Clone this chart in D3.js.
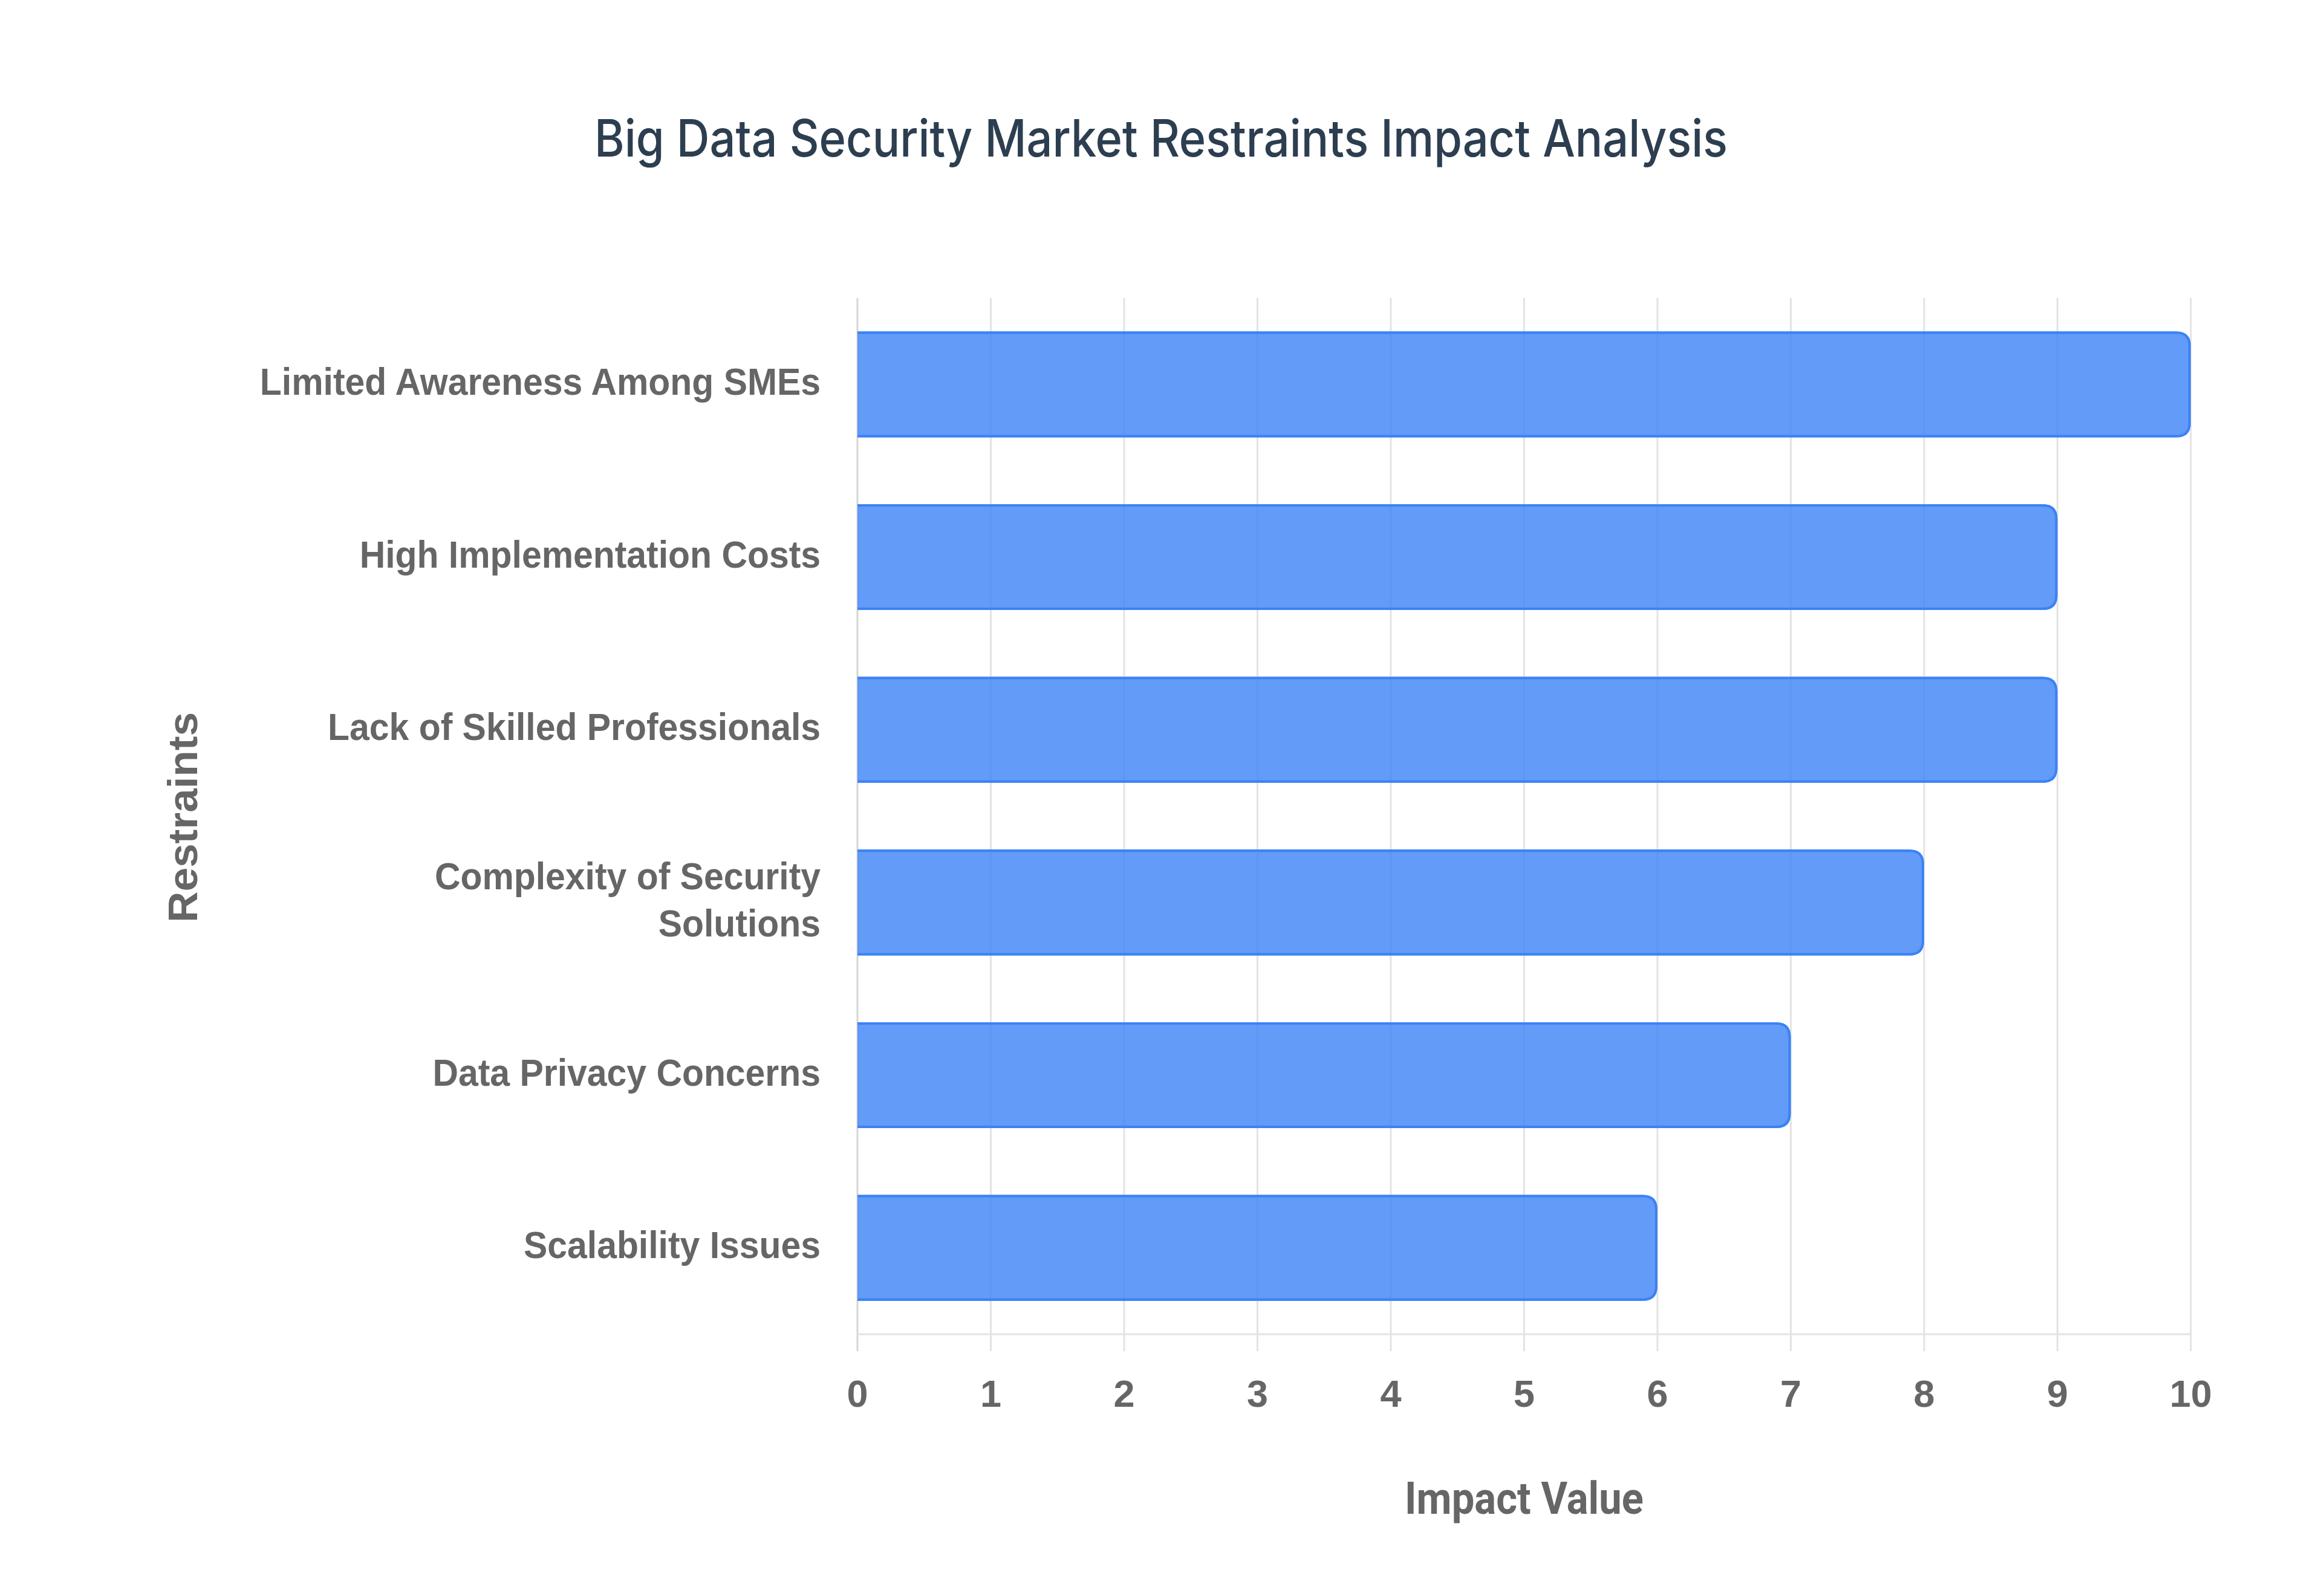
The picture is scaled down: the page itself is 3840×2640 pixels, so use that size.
<!DOCTYPE html>
<html>
<head>
<meta charset="utf-8">
<script src="https://cdn.jsdelivr.net/npm/d3@7"></script>
<style>
  html, body { margin: 0; padding: 0; background: #ffffff; }
  svg { display: block; }
</style>
</head>
<body>
<div id="chart"></div>
<script>
// ---- data ----
const chartTitle = "Big Data Security Market Restraints Impact Analysis";
const categories = [
  "Limited Awareness Among SMEs",
  "High Implementation Costs",
  "Lack of Skilled Professionals",
  "Complexity of Security Solutions",
  "Data Privacy Concerns",
  "Scalability Issues"
];
const categoryLabelLines = [
  ["Limited Awareness Among SMEs"],
  ["High Implementation Costs"],
  ["Lack of Skilled Professionals"],
  ["Complexity of Security", "Solutions"],
  ["Data Privacy Concerns"],
  ["Scalability Issues"]
];
const impactValues = [10, 9, 9, 8, 7, 6];
const xTicks = [0, 1, 2, 3, 4, 5, 6, 7, 8, 9, 10];
const xAxisTitle = "Impact Value";
const yAxisTitle = "Restraints";

// ---- layout ----
const W = 3840, H = 2640;
const plot = { left: 1418, right: 3623, top: 493, bottom: 2207 };

const svg = d3.select("#chart").append("svg")
  .attr("width", W).attr("height", H)
  .attr("viewBox", `0 0 ${W} ${H}`);

svg.append("rect").attr("width", W).attr("height", H).attr("fill", "#ffffff");

const x = d3.scaleLinear().domain([0, 10]).range([plot.left, plot.right]);
const y = d3.scaleBand().domain(categories).range([plot.top, plot.bottom])
  .paddingInner(0.387).paddingOuter(0.387 / 2);

const gridColor = "#e3e3e3";

// vertical gridlines with ticks extending below axis
svg.append("g").selectAll("line").data(xTicks).join("line")
  .attr("x1", d => x(d)).attr("x2", d => x(d))
  .attr("y1", plot.top).attr("y2", plot.bottom + 28)
  .attr("stroke", d => d === 0 ? "#d6d6d6" : gridColor)
  .attr("stroke-width", 3);

// bottom axis line
svg.append("line")
  .attr("x1", plot.left).attr("x2", plot.right)
  .attr("y1", plot.bottom).attr("y2", plot.bottom)
  .attr("stroke", gridColor).attr("stroke-width", 3);

// tick labels
svg.append("g").selectAll("text").data(xTicks).join("text")
  .attr("x", d => x(d)).attr("y", 2327)
  .attr("text-anchor", "middle")
  .attr("font-family", "'Liberation Sans', Arial, Helvetica, sans-serif")
  .attr("font-weight", "bold")
  .attr("font-size", 63)
  .attr("fill", "#666666")
  .text(d => d);

// bars
const r = 24, bw = 4;
const bars = svg.append("g");
categories.forEach((c, i) => {
  const x0 = x(0), x1 = x(impactValues[i]);
  const y0 = y(c), h = y.bandwidth();
  const rr = Math.min(r, h / 2, x1 - x0);
  const fillPath = `M${x0},${y0} H${x1 - rr} Q${x1},${y0} ${x1},${y0 + rr} V${y0 + h - rr} Q${x1},${y0 + h} ${x1 - rr},${y0 + h} H${x0} Z`;
  bars.append("path").attr("d", fillPath).attr("fill", "rgba(59,130,246,0.8)");
  const a = bw / 2;
  const xi = x1 - a, yt = y0 + a, yb = y0 + h - a, ri = rr - a;
  const strokePath = `M${x0},${yt} H${xi - ri} Q${xi},${yt} ${xi},${yt + ri} V${yb - ri} Q${xi},${yb} ${xi - ri},${yb} H${x0}`;
  bars.append("path").attr("d", strokePath).attr("fill", "none")
    .attr("stroke", "#3b82f6").attr("stroke-width", bw);
});

// category labels
const labG = svg.append("g");
categories.forEach((c, i) => {
  const lines = categoryLabelLines[i];
  const cy = y(c) + y.bandwidth() / 2;
  const lh = 78;
  lines.forEach((ln, j) => {
    const base = cy + 17 + (j - (lines.length - 1) / 2) * lh;
    labG.append("text")
      .attr("transform", `translate(1357,${base}) scale(0.935,1)`)
      .attr("text-anchor", "end")
      .attr("font-family", "'Liberation Sans', Arial, Helvetica, sans-serif")
      .attr("font-weight", "bold")
      .attr("font-size", 63)
      .attr("fill", "#666666")
      .text(ln);
  });
});

// title
svg.append("text")
  .attr("x", 1920).attr("y", 259)
  .attr("text-anchor", "middle")
  .attr("font-family", "Inter, 'Open Sans', sans-serif")
  .attr("font-weight", 500)
  .attr("font-size", 85)
  .attr("fill", "#2c3e50")
  .attr("textLength", 1874)
  .attr("lengthAdjust", "spacingAndGlyphs")
  .text(chartTitle);

// x axis title
svg.append("text")
  .attr("x", (plot.left + plot.right) / 2).attr("y", 2504)
  .attr("text-anchor", "middle")
  .attr("font-family", "Roboto, 'Liberation Sans', Arial, sans-serif")
  .attr("font-weight", "bold")
  .attr("font-size", 74)
  .attr("fill", "#666666")
  .attr("textLength", 395)
  .attr("lengthAdjust", "spacingAndGlyphs")
  .text(xAxisTitle);

// y axis title
svg.append("text")
  .attr("transform", `translate(326,1352) rotate(-90)`)
  .attr("text-anchor", "middle")
  .attr("font-family", "'Liberation Sans', Arial, sans-serif")
  .attr("font-weight", "bold")
  .attr("font-size", 68)
  .attr("fill", "#666666")
  .attr("textLength", 348)
  .attr("lengthAdjust", "spacingAndGlyphs")
  .text(yAxisTitle);
</script>
</body>
</html>
